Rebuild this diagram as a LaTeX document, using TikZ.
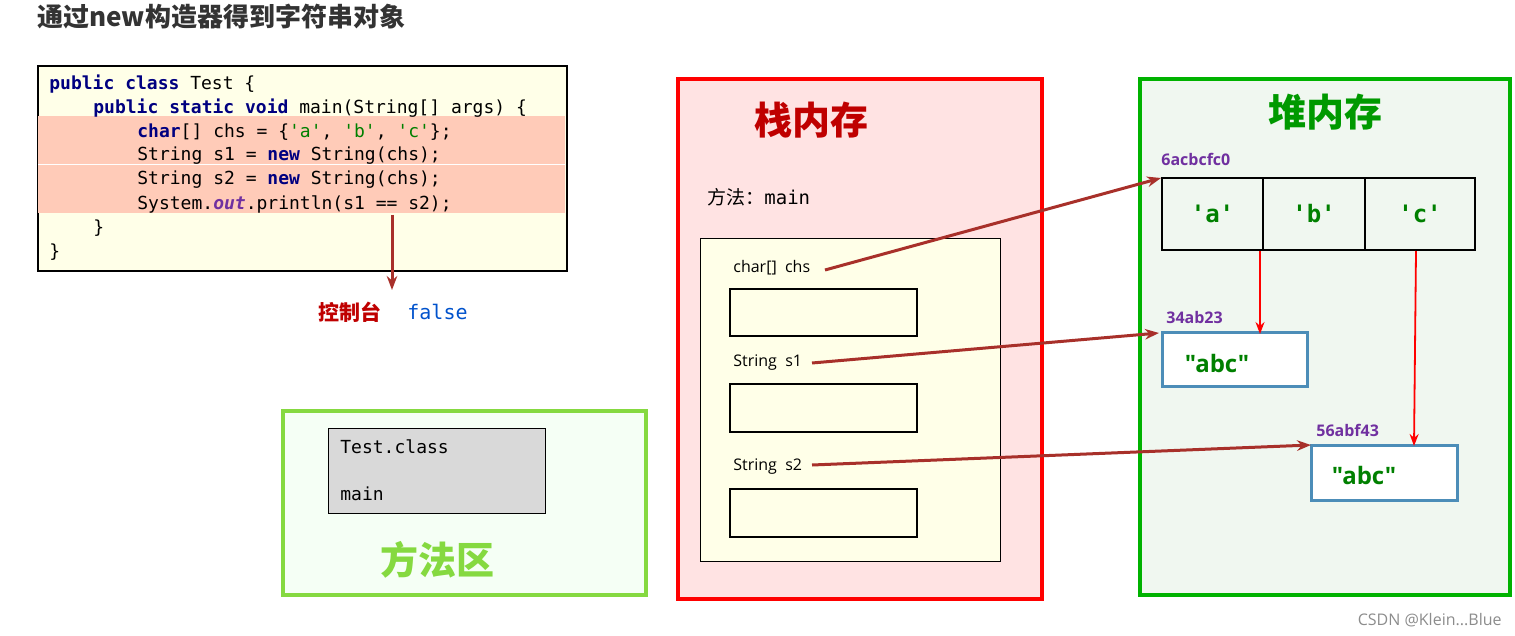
\documentclass[tikz,border=0pt]{standalone}
\usepackage{fontspec}
\setmainfont{Open Sans}
\setmonofont{DejaVu Sans Mono}
\newfontfamily\cjk{Noto Sans CJK SC}
\newfontfamily\plain[Ligatures=ResetAll]{Open Sans}
\usetikzlibrary{arrows.meta}
\definecolor{kw}{HTML}{000080}
\definecolor{str}{HTML}{008000}
\definecolor{arr}{HTML}{A8302A}
\definecolor{pur}{HTML}{7030A0}
\definecolor{hl}{HTML}{FFCBB8}
\definecolor{code}{HTML}{FFFFE8}
\newcommand{\dq}{\textquotedbl}
\tikzset{
 code/.style={anchor=west,inner sep=0pt,font=\ttfamily\fontsize{9}{10}\selectfont},
 lbl/.style={anchor=west,inner sep=0pt,font=\fontsize{8}{9}\selectfont},
 addr/.style={anchor=west,inner sep=0pt,font=\bfseries\fontsize{8}{9}\selectfont,text=pur},
 big/.style={inner sep=0pt,font=\cjk\bfseries\fontsize{19}{20}\selectfont},
 slot/.style={draw=black,line width=0.8pt},
 ref/.style={draw=arr,line width=1.5pt,-{Stealth[length=7pt]}},
 rref/.style={draw=red,line width=0.9pt,-{Stealth[length=6pt]}},
 sbox/.style={draw=blue!40!cyan!60!black!70,line width=1.5pt,fill=white}
}
\begin{document}
\begin{tikzpicture}[x=0.5pt,y=-0.5pt]
\useasboundingbox (0,0) rectangle (1515,636);
\node[anchor=west,inner sep=0pt,text=black!80,font=\cjk\bfseries\fontsize{13}{14}\selectfont] (title) at (37,17) {通过new构造器得到字符串对象};
% code
\node[draw,line width=0.8pt,fill=code,minimum width=264.5pt,minimum height=102.5pt,inner sep=0pt,anchor=north west] (codebox) at (37,65) {};
\fill[hl] (38,116) rectangle (565,213);
\draw[white,line width=0.4pt] (38,164) -- (565,164);
\node[code] (c1) at (49,84) {\textcolor{kw}{\bfseries public class} Test \{};
\node[code] (c2) at (93,108) {\textcolor{kw}{\bfseries public static void} main(String[] args) \{};
\node[code] (c3) at (137,132) {\textcolor{kw}{\bfseries char}[] chs = \{\textcolor{str}{'a'}, \textcolor{str}{'b'}, \textcolor{str}{'c'}\};};
\node[code] (c4) at (137,156) {String s1 = \textcolor{kw}{\bfseries new} String(chs);};
\node[code] (c5) at (137,180) {String s2 = \textcolor{kw}{\bfseries new} String(chs);};
\node[code] (c6) at (137,204) {System.\textcolor{pur}{\bfseries\itshape out}.println(s1 == s2);};
\node[code] (c7) at (93,228) {\}};
\node[code] (c8) at (49,252) {\}};
\coordinate (ca) at (392,215);
\coordinate (cb) at (392,290);
\node[inner sep=0pt,font=\cjk\bfseries\fontsize{10.5}{12}\selectfont,text=red!75!black] (con) at (350,312) {控制台};
\node[anchor=west,inner sep=0pt,font=\ttfamily\fontsize{10}{12}\selectfont,text=blue!60!cyan!80!black] (fal) at (407,312) {false};
\draw[ref] (ca) -- (cb);
% method area
\node[draw=lime!60!green!80!black!75,line width=2pt,fill=green!4,minimum width=181.5pt,minimum height=92pt,inner sep=0pt,anchor=north west] (ma) at (281,409) {};
\node[draw,fill=black!15,line width=0.7pt,minimum width=108.5pt,minimum height=42.5pt,inner sep=0pt,anchor=north west] (cls) at (328,428) {};
\node[code] (tc) at (340,447) {Test.class};
\node[code] (mm) at (340,494) {main};
\node[big,text=lime!60!green!80!black!75] (fq) at (437,560) {方法区};
% stack
\node[draw=red,line width=2pt,fill=red!11,minimum width=182pt,minimum height=260pt,inner sep=0pt,anchor=north west] (stack) at (676,77) {};
\node[big,text=red!75!black] (zn) at (811,120) {栈内存};
\node[anchor=west,inner sep=0pt,font=\cjk\fontsize{9.5}{11}\selectfont] (ff) at (707,197) {方法：\texttt{main}};
\node[draw,line width=0.7pt,fill=code,minimum width=150pt,minimum height=161.5pt,inner sep=0pt,anchor=north west] (frame) at (700,238) {};
\node[lbl] (l1) at (733,268) {char[]\ \ chs};
\node[slot,minimum width=93.5pt,minimum height=23.5pt,inner sep=0pt,anchor=north west] (b1) at (729,288) {};
\node[lbl] (l2) at (733,363) {String\ \ s1};
\node[slot,minimum width=93.5pt,minimum height=24pt,inner sep=0pt,anchor=north west] (b2) at (729,383) {};
\node[lbl] (l3) at (733,467) {String\ \ s2};
\node[slot,minimum width=93.5pt,minimum height=24pt,inner sep=0pt,anchor=north west] (b3) at (729,488) {};
% heap
\node[draw=green!70!black,line width=2pt,fill=green!50!black!6,minimum width=185pt,minimum height=258pt,inner sep=0pt,anchor=north west] (heap) at (1138,77) {};
\node[big,text=green!60!black] (dn) at (1325,112) {堆内存};
\node[addr] (a1) at (1161,159) {6acbcfc0};
\node[draw,line width=1pt,minimum width=50.5pt,minimum height=36pt,inner sep=0pt,anchor=north west,font=\ttfamily\bfseries\fontsize{12}{14}\selectfont,text=str] (ca1) at (1161,177) {'a'};
\node[draw,line width=1pt,minimum width=51pt,minimum height=36pt,inner sep=0pt,anchor=north west,font=\ttfamily\bfseries\fontsize{12}{14}\selectfont,text=str] (ca2) at (1262,177) {'b'};
\node[draw,line width=1pt,minimum width=55pt,minimum height=36pt,inner sep=0pt,anchor=north west,font=\ttfamily\bfseries\fontsize{12}{14}\selectfont,text=str] (ca3) at (1364,177) {'c'};
\node[addr] (a2) at (1166,317) {34ab23};
\node[sbox,minimum width=72.5pt,minimum height=27pt,inner sep=0pt,anchor=north west] (s1) at (1161,331) {};
\node[inner sep=0pt,font=\plain\bfseries\fontsize{12}{14}\selectfont,text=str] (t1) at (1217,363) {"abc"};
\node[addr] (a3) at (1316,430) {56abf43};
\node[sbox,minimum width=73pt,minimum height=27.5pt,inner sep=0pt,anchor=north west] (s2) at (1310,444) {};
\node[inner sep=0pt,font=\plain\bfseries\fontsize{12}{14}\selectfont,text=str] (t2) at (1364,475) {"abc"};
% arrows
\coordinate (p1) at (825,270);
\coordinate (q1) at (1161,178);
\coordinate (p2) at (812,363);
\coordinate (q2) at (1159,333);
\coordinate (p3) at (812,465);
\coordinate (q3) at (1311,445);
\draw[ref] (p1) -- (q1);
\draw[ref] (p2) -- (q2);
\draw[ref] (p3) -- (q3);
\coordinate (r1) at (1260,251);
\coordinate (r2) at (1260,334);
\coordinate (r3) at (1416,251);
\coordinate (r4) at (1414,446);
\draw[rref] (r1) -- (r2);
\draw[rref] (r3) -- (r4);
\node[anchor=east,inner sep=0pt,text=black!45,font=\fontsize{8}{9}\selectfont] (wm) at (1502,620) {CSDN @Klein...Blue};
\end{tikzpicture}
\end{document}
